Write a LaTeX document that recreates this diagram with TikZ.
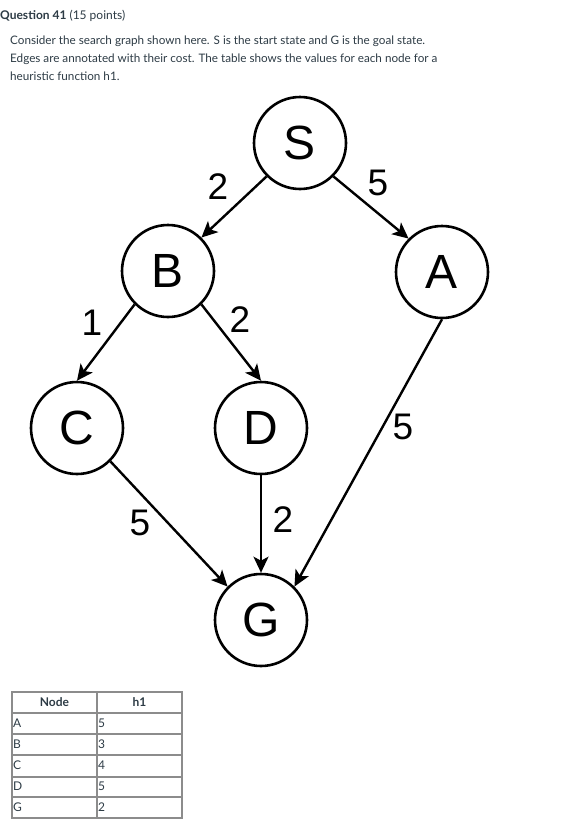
\documentclass[tikz,border=0pt]{standalone}
\usepackage{fontspec}
\setmainfont{Lato}
\newfontfamily\graphfont{Liberation Sans}
\usepackage{tikz}
\usetikzlibrary{arrows.meta}

\definecolor{textgray}{HTML}{2D3B45}
\definecolor{rulegray}{HTML}{8C8C8C}

\begin{document}
\begin{tikzpicture}[x=1pt,y=-1pt,
  state/.style={circle,draw,line width=2.6pt,minimum size=92pt,inner sep=0pt,
    font=\graphfont\fontsize{48}{48}\selectfont},
  edge/.style={line width=2.4pt,-{Stealth[length=16pt,width=15pt,inset=4pt]}},
  cost/.style={inner sep=0pt,font=\graphfont\fontsize{37}{37}\selectfont},
  line/.style={anchor=base west,inner sep=0pt,text=textgray,font=\fontsize{11.7}{15}\selectfont},
  cell/.style={anchor=west,inner sep=0pt,text=textgray,font=\fontsize{12}{14}\selectfont}]
\useasboundingbox (0,0) rectangle (583,822);

\node[line,font=\fontsize{12}{15}\selectfont] (title) at (0,19) {\textbf{Question 41} (15 points)};
\node[line] (line1) at (10,44) {Consider the search graph shown here. S is the start state and G is the goal state.};
\node[line] (line2) at (10,62) {Edges are annotated with their cost. The table shows the values for each node for a};
\node[line] (line3) at (10,80) {heuristic function h1.};

\node[state] (S) at (300,143) {S};

\node[state] (B) at (168,271) {B};
\node[state] (A) at (442,272) {A};

\node[state] (C) at (77,428) {C};
\node[state] (D) at (261,428) {D};

\node[state] (G) at (261,620) {G};

\draw[edge] (S.south west)--(B.north east);
\draw[edge] (S.south east)--(A.north west);

\draw[edge] (B.south west)--(C.north);
\draw[edge] (B.south east)--(D.north);

\draw[edge] (C.south east)--(G.north west);
\draw[edge] (D)--(G);
\draw[edge] (A.south)--(G.north east);

\node[cost] (sb) at (218,187) {2};
\node[cost] (sa) at (378,183) {5};
\node[cost] (bc) at (92,323) {1};
\node[cost] (bd) at (240,320) {2};
\node[cost] (ag) at (403,427) {5};
\node[cost] (cg) at (140,523) {5};
\node[cost] (dg) at (283,520) {2};

% h1 table
\draw[rulegray,line width=1.3pt] (12,692) rectangle (182,818);
\draw[rulegray,line width=1.3pt] (97,692)--(97,818);
\foreach \y in {713,734,755,777,797}
  \draw[rulegray,line width=1.3pt] (12,\y)--(182,\y);

\node[cell,anchor=center,font=\bfseries\fontsize{12}{14}\selectfont] (nodehead) at (54.5,702.5) {Node};
\node[cell,anchor=center,font=\bfseries\fontsize{12}{14}\selectfont] (hhead) at (139.5,702.5) {h1};
\foreach \n/\h [count=\i] in {A/5,B/3,C/4,D/5,G/2} {
  \node[cell] (n\n) at (13,702.5+21*\i) {\n};
  \node[cell] (h\n) at (98,702.5+21*\i) {\h};
}
\end{tikzpicture}
\end{document}
